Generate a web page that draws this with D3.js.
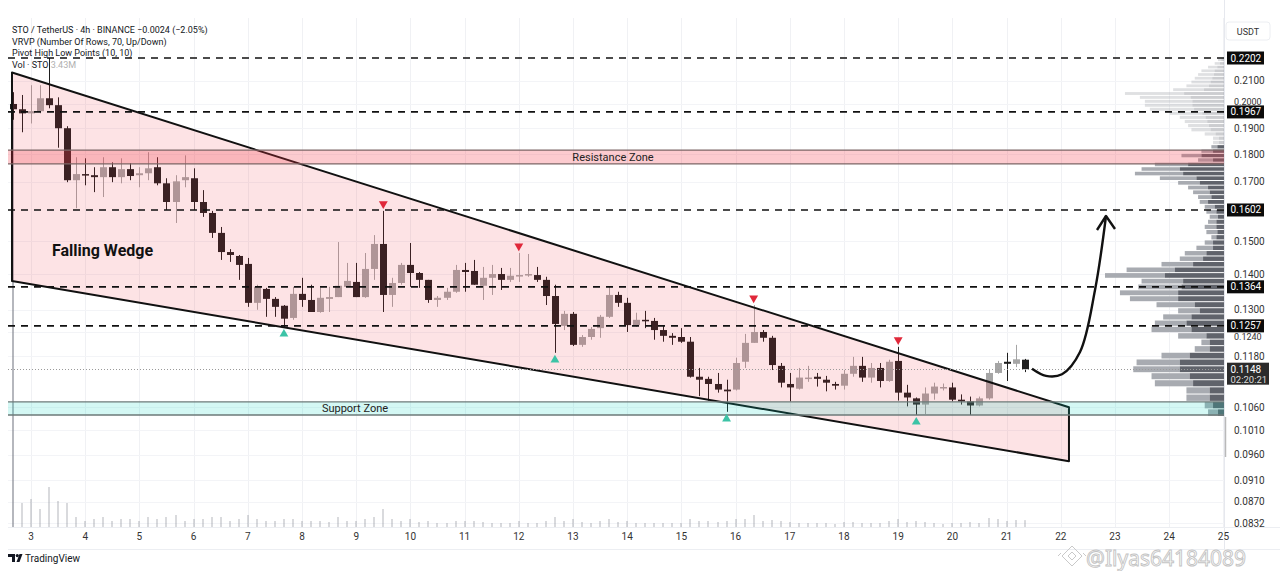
<!DOCTYPE html>
<html>
<head>
<meta charset="utf-8">
<script src="https://cdn.jsdelivr.net/npm/d3@7"></script>
<style>
  body { margin: 0; background: #fff; }
  svg { display: block; font-family: Roboto, "Liberation Sans", sans-serif; }
</style>
</head>
<body>
<svg id="chart" width="1280" height="571"></svg>
<script>
// ---- data: STO / USDT, 4h candles, first one opens 2 Apr 16:00 UTC ----
var firstCandle = Date.UTC(2025, 3, 2, 16);
var candleMs = 4 * 3600 * 1000;

var opens = [0.2000,0.1978,0.1961,0.1970,0.2024,0.1995,0.1901,0.1705,0.1727,0.1723,
  0.1716,0.1752,0.1716,0.1745,0.1723,0.1730,0.1752,0.1694,0.1629,0.1705,
  0.1712,0.1629,0.1592,0.1527,0.1467,0.1455,0.1431,0.1319,0.1358,0.1330,
  0.1311,0.1278,0.1344,0.1327,0.1294,0.1330,0.1335,0.1364,0.1378,0.1335,
  0.1416,0.1492,0.1341,0.1375,0.1428,0.1404,0.1384,0.1327,0.1333,0.1350,
  0.1413,0.1410,0.1367,0.1390,0.1401,0.1384,0.1396,0.1398,0.1398,0.1384,
  0.1338,0.1257,0.1289,0.1208,0.1228,0.1251,0.1281,0.1341,0.1319,0.1259,
  0.1273,0.1270,0.1246,0.1231,0.1228,0.1216,0.1130,0.1125,0.1113,0.1100,
  0.1100,0.1166,0.1213,0.1241,0.1226,0.1156,0.1113,0.1102,0.1125,0.1130,
  0.1123,0.1113,0.1109,0.1137,0.1156,0.1128,0.1151,0.1120,0.1168,0.1093,
  0.1080,0.1066,0.1091,0.1105,0.1105,0.1077,0.1073,0.1064,0.1080,0.1139,
  0.1166,0.1161,0.1171];
var highs = [0.2050,0.2038,0.2080,0.2080,0.2202,0.2028,0.1909,0.1789,0.1785,0.1752,
  0.1789,0.1770,0.1785,0.1767,0.1752,0.1808,0.1789,0.1712,0.1723,0.1796,
  0.1748,0.1670,0.1599,0.1546,0.1476,0.1458,0.1449,0.1370,0.1361,0.1335,
  0.1313,0.1364,0.1390,0.1370,0.1361,0.1364,0.1498,0.1434,0.1434,0.1464,
  0.1520,0.1599,0.1390,0.1434,0.1495,0.1407,0.1384,0.1338,0.1361,0.1428,
  0.1434,0.1443,0.1422,0.1428,0.1419,0.1419,0.1464,0.1461,0.1422,0.1393,
  0.1370,0.1297,0.1294,0.1233,0.1254,0.1286,0.1364,0.1350,0.1333,0.1292,
  0.1297,0.1278,0.1259,0.1238,0.1251,0.1228,0.1151,0.1130,0.1139,0.1123,
  0.1176,0.1236,0.1313,0.1246,0.1231,0.1163,0.1139,0.1151,0.1156,0.1139,
  0.1132,0.1118,0.1146,0.1178,0.1178,0.1163,0.1163,0.1171,0.1203,0.1111,
  0.1082,0.1105,0.1116,0.1114,0.1116,0.1089,0.1084,0.1084,0.1148,0.1168,
  0.1188,0.1208,0.1173];
var lows = [0.1935,0.1885,0.1920,0.1961,0.1982,0.1825,0.1698,0.1608,0.1687,0.1663,
  0.1646,0.1698,0.1694,0.1705,0.1680,0.1705,0.1687,0.1602,0.1559,0.1680,
  0.1602,0.1579,0.1511,0.1443,0.1437,0.1384,0.1308,0.1300,0.1281,0.1281,
  0.1254,0.1273,0.1308,0.1294,0.1292,0.1294,0.1335,0.1364,0.1335,0.1333,
  0.1384,0.1294,0.1308,0.1370,0.1364,0.1361,0.1319,0.1308,0.1327,0.1347,
  0.1350,0.1370,0.1327,0.1341,0.1355,0.1378,0.1378,0.1393,0.1378,0.1313,
  0.1188,0.1246,0.1205,0.1203,0.1221,0.1226,0.1278,0.1308,0.1241,0.1254,
  0.1251,0.1221,0.1216,0.1208,0.1213,0.1128,0.1085,0.1075,0.1093,0.1050,
  0.1098,0.1151,0.1213,0.1216,0.1146,0.1105,0.1073,0.1100,0.1118,0.1107,
  0.1096,0.1100,0.1100,0.1130,0.1118,0.1116,0.1105,0.1118,0.1075,0.1062,
  0.1043,0.1045,0.1077,0.1098,0.1073,0.1066,0.1043,0.1062,0.1077,0.1137,
  0.1120,0.1153,0.1141];
var closes = [0.1978,0.1961,0.1970,0.2024,0.1995,0.1901,0.1705,0.1727,0.1723,0.1716,
  0.1752,0.1716,0.1745,0.1720,0.1730,0.1748,0.1694,0.1629,0.1701,0.1716,
  0.1629,0.1592,0.1527,0.1467,0.1458,0.1428,0.1319,0.1364,0.1330,0.1308,
  0.1276,0.1344,0.1327,0.1294,0.1333,0.1335,0.1367,0.1381,0.1335,0.1416,
  0.1492,0.1341,0.1375,0.1428,0.1404,0.1384,0.1327,0.1333,0.1350,0.1413,
  0.1407,0.1370,0.1390,0.1401,0.1384,0.1396,0.1398,0.1401,0.1384,0.1338,
  0.1262,0.1289,0.1208,0.1228,0.1249,0.1281,0.1341,0.1319,0.1259,0.1273,
  0.1270,0.1246,0.1231,0.1226,0.1216,0.1130,0.1123,0.1113,0.1100,0.1096,
  0.1163,0.1213,0.1241,0.1226,0.1158,0.1116,0.1105,0.1128,0.1128,0.1125,
  0.1116,0.1109,0.1137,0.1156,0.1128,0.1151,0.1120,0.1166,0.1093,0.1082,
  0.1066,0.1091,0.1107,0.1106,0.1077,0.1073,0.1064,0.1080,0.1139,0.1163,
  0.1161,0.1172,0.1148];
// volume in millions STO
var volumes = [215,12,14,9,20,13,12,5,3,4, 5,3,4,4,3,5,4,5,6,3,
  4,4,5,5,3,4,6,4,3,3, 4,4,3,3,3,2.5,5,3,3,4, 5,9,4,3,4,2.5,3,2,2,3,
  3,3,2.5,2,2,2,3,2,2,3, 5,3,4,2.5,2,3,4,2.5,3,2, 2,2,2,2,2,4,3,3,2.5,3,
  4,4,6,3,3.5,3,2.5,2,2,2, 2,1.5,2.5,2.5,2,2,2,3,4,2.5, 3,2.5,2,1.5,2,2,2.5,2,4.5,4,
  3,3.5,3.43];

// visible range volume profile, 70 rows, lowest row first
var vpLow = 0.1040;
var vpStep = 0.00166;
var vpUp = [30,25,70,70,115,115,140,130,85,45, 25,85,120,95,85,65,115,145,175,130,
  125,180,145,95,70,65,50,25,15,33, 35,25,25,30,30,25,40,50,60,65,
  110,145,115,100,45,60,35,18,18,18, 33,58,63,68,78,98,133,143,143,153,
  178,93,68,58,53,48,40,28,16,10];
var vpDown = [18,33,43,43,93,103,133,133,103,43, 43,53,98,113,98,73,88,138,138,128,
  123,178,148,93,63,53,33,33,23,20, 23,23,18,23,28,48,38,43,48,73,
  83,123,133,108,33,68,33,20,15,15, 25,40,45,50,55,65,90,95,95,100,
  120,60,45,40,35,30,28,20,12,8];
var vpValueAreaTop = 47;

// drawings
var levels = [0.2202, 0.1967, 0.1602, 0.1364, 0.1257];
var resistanceZone = [0.1764, 0.1816];
var supportZone = [0.1043, 0.1072];
var lastPrice = 0.1148;
var countdown = "02:20:21";
var priceTicks = [0.2100, 0.2000, 0.1900, 0.1800, 0.1700, 0.1500, 0.1400, 0.1300,
  0.1240, 0.1180, 0.1060, 0.1010, 0.0960, 0.0910, 0.0870, 0.0832];
var pivotHighs = [41, 56, 82, 98];
var pivotLows = [30, 60, 79, 100];
var wedge = [
  [Date.UTC(2025, 3, 2, 15, 35), 0.2136],
  [Date.UTC(2025, 3, 22, 3, 37), 0.1060],
  [Date.UTC(2025, 3, 22, 3, 37), 0.0947],
  [Date.UTC(2025, 3, 2, 15, 35), 0.1381]
];
var arrowPts = [
  [Date.UTC(2025, 3, 21, 11, 15), 0.1149],
  [Date.UTC(2025, 3, 21, 17, 27), 0.1132],
  [Date.UTC(2025, 3, 22, 0, 32), 0.1136],
  [Date.UTC(2025, 3, 22, 8, 30), 0.1190],
  [Date.UTC(2025, 3, 22, 15, 9), 0.1355],
  [Date.UTC(2025, 3, 22, 20, 1), 0.1582]
];
var legendLines = [
  "STO / TetherUS · 4h · BINANCE  −0.0024 (−2.05%)",
  "VRVP (Number Of Rows, 70, Up/Down)",
  "Pivot High Low Points (10, 10)"
];

// ---- layout ----
var plot = {left: 8, right: 1224, top: 18, bottom: 527};
var svg = d3.select("#chart");

var x = d3.scaleUtc()
    .domain([Date.UTC(2025, 3, 2, 13, 49), Date.UTC(2025, 3, 25, 0, 16)])
    .range([plot.left, plot.right]);
var y = d3.scaleLog()
    .domain([0.2202, 0.0832])
    .range([58, 523]);
var yVol = d3.scaleLinear().domain([0, 215]).range([plot.bottom, 97]);
var vpWidth = d3.scaleLinear().domain([0, 358]).range([0, 119]);

var candles = opens.map(function(o, i) {
  return {t: new Date(firstCandle + i * candleMs), o: o, h: highs[i], l: lows[i], c: closes[i], v: volumes[i], i: i};
});
var upCol = "#a5a5a5", downCol = "#1e1e1e";

svg.append("defs").append("clipPath").attr("id", "clip")
  .append("rect")
    .attr("x", plot.left).attr("y", plot.top)
    .attr("width", plot.right - plot.left).attr("height", plot.bottom - plot.top);

var g = svg.append("g").attr("clip-path", "url(#clip)");

// grid
var days = d3.utcDay.range(new Date(Date.UTC(2025, 3, 3)), new Date(Date.UTC(2025, 3, 26)));
g.selectAll(".vgrid").data(days).enter().append("line")
    .attr("x1", function(d) { return Math.round(x(d)) + 0.5; })
    .attr("x2", function(d) { return Math.round(x(d)) + 0.5; })
    .attr("y1", plot.top).attr("y2", plot.bottom)
    .attr("stroke", "#f0f1f4");
g.selectAll(".hgrid").data(priceTicks).enter().append("line")
    .attr("x1", plot.left).attr("x2", plot.right)
    .attr("y1", function(d) { return Math.round(y(d)) + 0.5; })
    .attr("y2", function(d) { return Math.round(y(d)) + 0.5; })
    .attr("stroke", "#f3f4f7");

// volume
g.selectAll(".vol").data(candles).enter().append("rect")
    .attr("x", function(d) { return Math.round(x(d.t)) - 1; })
    .attr("width", 2)
    .attr("y", function(d) { return yVol(d.v); })
    .attr("height", function(d) { return plot.bottom - yVol(d.v); })
    .attr("fill", function(d, i) { return i === 0 ? "rgba(120,123,134,0.55)" : "rgba(120,123,134,0.28)"; });

// volume profile (anchored on the right edge)
var vpRows = vpUp.map(function(u, i) {
  return {lo: vpLow + i * vpStep, hi: vpLow + (i + 1) * vpStep, up: u, down: vpDown[i], va: i <= vpValueAreaTop};
});
var vp = g.append("g");
vpRows.forEach(function(r) {
  var y0 = y(r.hi) + 0.5, h = Math.max(1, y(r.lo) - y(r.hi) - 1);
  var wd = vpWidth(r.down), wu = vpWidth(r.up);
  vp.append("rect").attr("x", plot.right - wd - wu).attr("y", y0).attr("width", wu).attr("height", h)
    .attr("fill", "#a3a6ad").attr("opacity", r.va ? 0.95 : 0.35);
  vp.append("rect").attr("x", plot.right - wd).attr("y", y0).attr("width", wd).attr("height", h)
    .attr("fill", "#575b63").attr("opacity", r.va ? 0.95 : 0.3);
});

// candles
var cg = g.selectAll(".candle").data(candles).enter().append("g");
cg.append("line")
    .attr("x1", function(d) { return Math.round(x(d.t)) + 0.5; })
    .attr("x2", function(d) { return Math.round(x(d.t)) + 0.5; })
    .attr("y1", function(d) { return y(d.h); })
    .attr("y2", function(d) { return y(d.l); })
    .attr("stroke", function(d) { return d.c >= d.o ? upCol : downCol; });
cg.append("rect")
    .attr("x", function(d) { return Math.round(x(d.t)) - 3; })
    .attr("width", 7)
    .attr("y", function(d) { return y(Math.max(d.o, d.c)); })
    .attr("height", function(d) { return Math.max(1.5, Math.abs(y(d.o) - y(d.c))); })
    .attr("fill", function(d) { return d.c >= d.o ? upCol : downCol; });

// falling wedge
var wedgeLine = d3.line()
    .x(function(d) { return x(d[0]); })
    .y(function(d) { return y(d[1]); });
g.append("path")
    .attr("d", wedgeLine(wedge) + "Z")
    .attr("fill", "rgba(242,54,69,0.14)")
    .attr("stroke", "#111")
    .attr("stroke-width", 2)
    .attr("stroke-linejoin", "round");

// zones
function zone(z, fill, stroke, label, labelX) {
  g.append("rect")
    .attr("x", plot.left).attr("width", plot.right - plot.left)
    .attr("y", y(z[1])).attr("height", y(z[0]) - y(z[1]))
    .attr("fill", fill);
  [z[0], z[1]].forEach(function(p) {
    g.append("line").attr("x1", plot.left).attr("x2", plot.right)
      .attr("y1", y(p)).attr("y2", y(p))
      .attr("stroke", stroke).attr("stroke-width", 1.3);
  });
  g.append("text")
    .attr("x", labelX).attr("y", (y(z[0]) + y(z[1])) / 2 + 4)
    .attr("text-anchor", "middle")
    .attr("font-size", 11).attr("fill", "#222")
    .text(label);
}
zone(resistanceZone, "rgba(242,54,69,0.26)", "#7d6666", "Resistance Zone", 613);
zone(supportZone, "rgba(0,214,190,0.17)", "#6c7a78", "Support Zone", 355);

// key levels
g.selectAll(".level").data(levels).enter().append("line")
    .attr("x1", plot.left).attr("x2", plot.right)
    .attr("y1", function(d) { return y(d); })
    .attr("y2", function(d) { return y(d); })
    .attr("stroke", "#111").attr("stroke-width", 1.7)
    .attr("stroke-dasharray", "7,6");

// last price line
g.append("line")
    .attr("x1", plot.left).attr("x2", plot.right)
    .attr("y1", Math.round(y(lastPrice)) + 0.5).attr("y2", Math.round(y(lastPrice)) + 0.5)
    .attr("stroke", "#9a9a9a").attr("stroke-dasharray", "1,2");

// pivot markers
var tri = d3.symbol().type(d3.symbolTriangle).size(34);
g.selectAll(".ph").data(pivotHighs).enter().append("path")
    .attr("d", tri)
    .attr("transform", function(i) { return "translate(" + x(candles[i].t) + "," + (y(candles[i].h) - 7) + ") rotate(180)"; })
    .attr("fill", "#e0283a");
g.selectAll(".pl").data(pivotLows).enter().append("path")
    .attr("d", tri)
    .attr("transform", function(i) { return "translate(" + x(candles[i].t) + "," + (y(candles[i].l) + 7) + ")"; })
    .attr("fill", "#3cc3a6");

// projected breakout arrow
var arrowLine = d3.line()
    .x(function(d) { return x(d[0]); })
    .y(function(d) { return y(d[1]); })
    .curve(d3.curveCatmullRom);
g.append("path")
    .attr("d", arrowLine(arrowPts))
    .attr("fill", "none").attr("stroke", "#111").attr("stroke-width", 2.4);
var tip = arrowPts[arrowPts.length - 1];
var tx = x(tip[0]), ty = y(tip[1]);
g.append("path")
    .attr("d", "M" + (tx - 9) + "," + (ty + 14) + "L" + tx + "," + ty + "L" + (tx + 9) + "," + (ty + 13))
    .attr("fill", "none").attr("stroke", "#111").attr("stroke-width", 2.4)
    .attr("stroke-linejoin", "round");

// wedge label
g.append("text")
    .attr("x", 52).attr("y", 256)
    .attr("font-size", 16).attr("font-weight", 700).attr("fill", "#111")
    .text("Falling Wedge");

// legend
var leg = svg.append("g").attr("font-size", 9).attr("fill", "#131722");
legendLines.forEach(function(t, i) {
  leg.append("text").attr("x", 12).attr("y", 33 + i * 11.6).text(t);
});
var volTxt = leg.append("text").attr("x", 12).attr("y", 33 + 3 * 11.6);
volTxt.append("tspan").text("Vol · STO  ");
volTxt.append("tspan").attr("fill", "#b0b0b0").text(d3.format(".3~s")(volumes[volumes.length - 1] * 1e6));

// frame lines
svg.append("line").attr("x1", plot.right + 0.5).attr("x2", plot.right + 0.5)
  .attr("y1", 0).attr("y2", plot.bottom + 22).attr("stroke", "#e6e8ee");
svg.append("line").attr("x1", plot.left).attr("x2", 1280)
  .attr("y1", plot.bottom + 0.5).attr("y2", plot.bottom + 0.5).attr("stroke", "#eceef2");
svg.append("line").attr("x1", plot.left).attr("x2", 1280)
  .attr("y1", plot.bottom + 22.5).attr("y2", plot.bottom + 22.5).attr("stroke", "#eceef2");
svg.append("line").attr("x1", plot.right + 1.5).attr("x2", plot.right + 1.5)
  .attr("y1", 417).attr("y2", 457).attr("stroke", "#b9b9b9").attr("stroke-width", 1.5);

// right price axis; a tick label that would sit under a level box is pushed just outside it
var ax = svg.append("g").attr("font-size", 10).attr("fill", "#333");
function tickLabelY(d) {
  var yy = y(d);
  levels.forEach(function(l) {
    var ly = y(l);
    if (Math.abs(yy - ly) < 11) yy = yy < ly ? ly - 10.5 : ly + 10.5;
  });
  return yy;
}
ax.selectAll(".tick").data(priceTicks).enter().append("text")
    .attr("x", 1234)
    .attr("y", function(d) { return tickLabelY(d) + 3.5; })
    .attr("font-size", function(d) { return tickLabelY(d) === y(d) ? 10 : 9; })
    .text(function(d) { return d3.format(".4f")(d); });
ax.append("rect").attr("x", 1226).attr("y", 22).attr("width", 44).attr("height", 18)
  .attr("rx", 3).attr("fill", "#fff").attr("stroke", "#eceef2");
ax.append("text").attr("x", 1248).attr("y", 34.5).attr("text-anchor", "middle")
  .attr("font-size", 9).text("USDT");
var lv = ax.selectAll(".lvl").data(levels).enter().append("g");
lv.append("rect")
    .attr("x", 1227).attr("width", 37)
    .attr("y", function(d) { return y(d) - 6.5; }).attr("height", 13)
    .attr("fill", "#0b0b0b");
lv.append("text")
    .attr("x", 1230.5).attr("y", function(d) { return y(d) + 3.5; })
    .attr("fill", "#fff")
    .text(function(d) { return d3.format(".4f")(d); });
ax.append("rect").attr("x", 1227).attr("y", y(lastPrice) - 6.5)
  .attr("width", 42).attr("height", 22).attr("fill", "#2b2b2b");
ax.append("text").attr("x", 1230.5).attr("y", y(lastPrice) + 3.5).attr("fill", "#fff")
  .text(d3.format(".4f")(lastPrice));
ax.append("text").attr("x", 1230.5).attr("y", y(lastPrice) + 13.5).attr("fill", "#ddd")
  .attr("font-size", 9.5).text(countdown);

// bottom time axis
svg.append("g").attr("font-size", 10).attr("fill", "#333")
  .selectAll("text").data(days).enter().append("text")
    .attr("x", function(d) { return x(d); })
    .attr("y", 540)
    .attr("text-anchor", "middle")
    .text(d3.utcFormat("%-d"));

// TradingView mark
var tv = svg.append("g").attr("transform", "translate(8,554)");
tv.append("path").attr("d", "M0,0H7V8H4V3H0Z").attr("fill", "#131722");
tv.append("circle").attr("cx", 9.3).attr("cy", 1.6).attr("r", 1.6).attr("fill", "#131722");
tv.append("path").attr("d", "M8.5,8L11.5,0H14.5L11.5,8Z").attr("fill", "#131722");
svg.append("text").attr("x", 25).attr("y", 562).attr("font-size", 10).attr("fill", "#131722")
  .text("TradingView");

// watermark
var wm = svg.append("g").attr("fill", "none").attr("stroke", "#c3c3c3").attr("stroke-width", 0.9);
wm.append("path").attr("transform", "translate(1072,556)")
  .attr("d", "M0,-10L10,0L0,10L-10,0Z M0,-4L4,0L0,4L-4,0Z M-14,0L-11,-3 M14,0L11,-3");
wm.append("text").attr("x", 1086).attr("y", 566)
  .attr("font-size", 21).attr("font-family", "'Noto Sans', sans-serif")
  .text("@Ilyas64184089");
</script>
</body>
</html>
